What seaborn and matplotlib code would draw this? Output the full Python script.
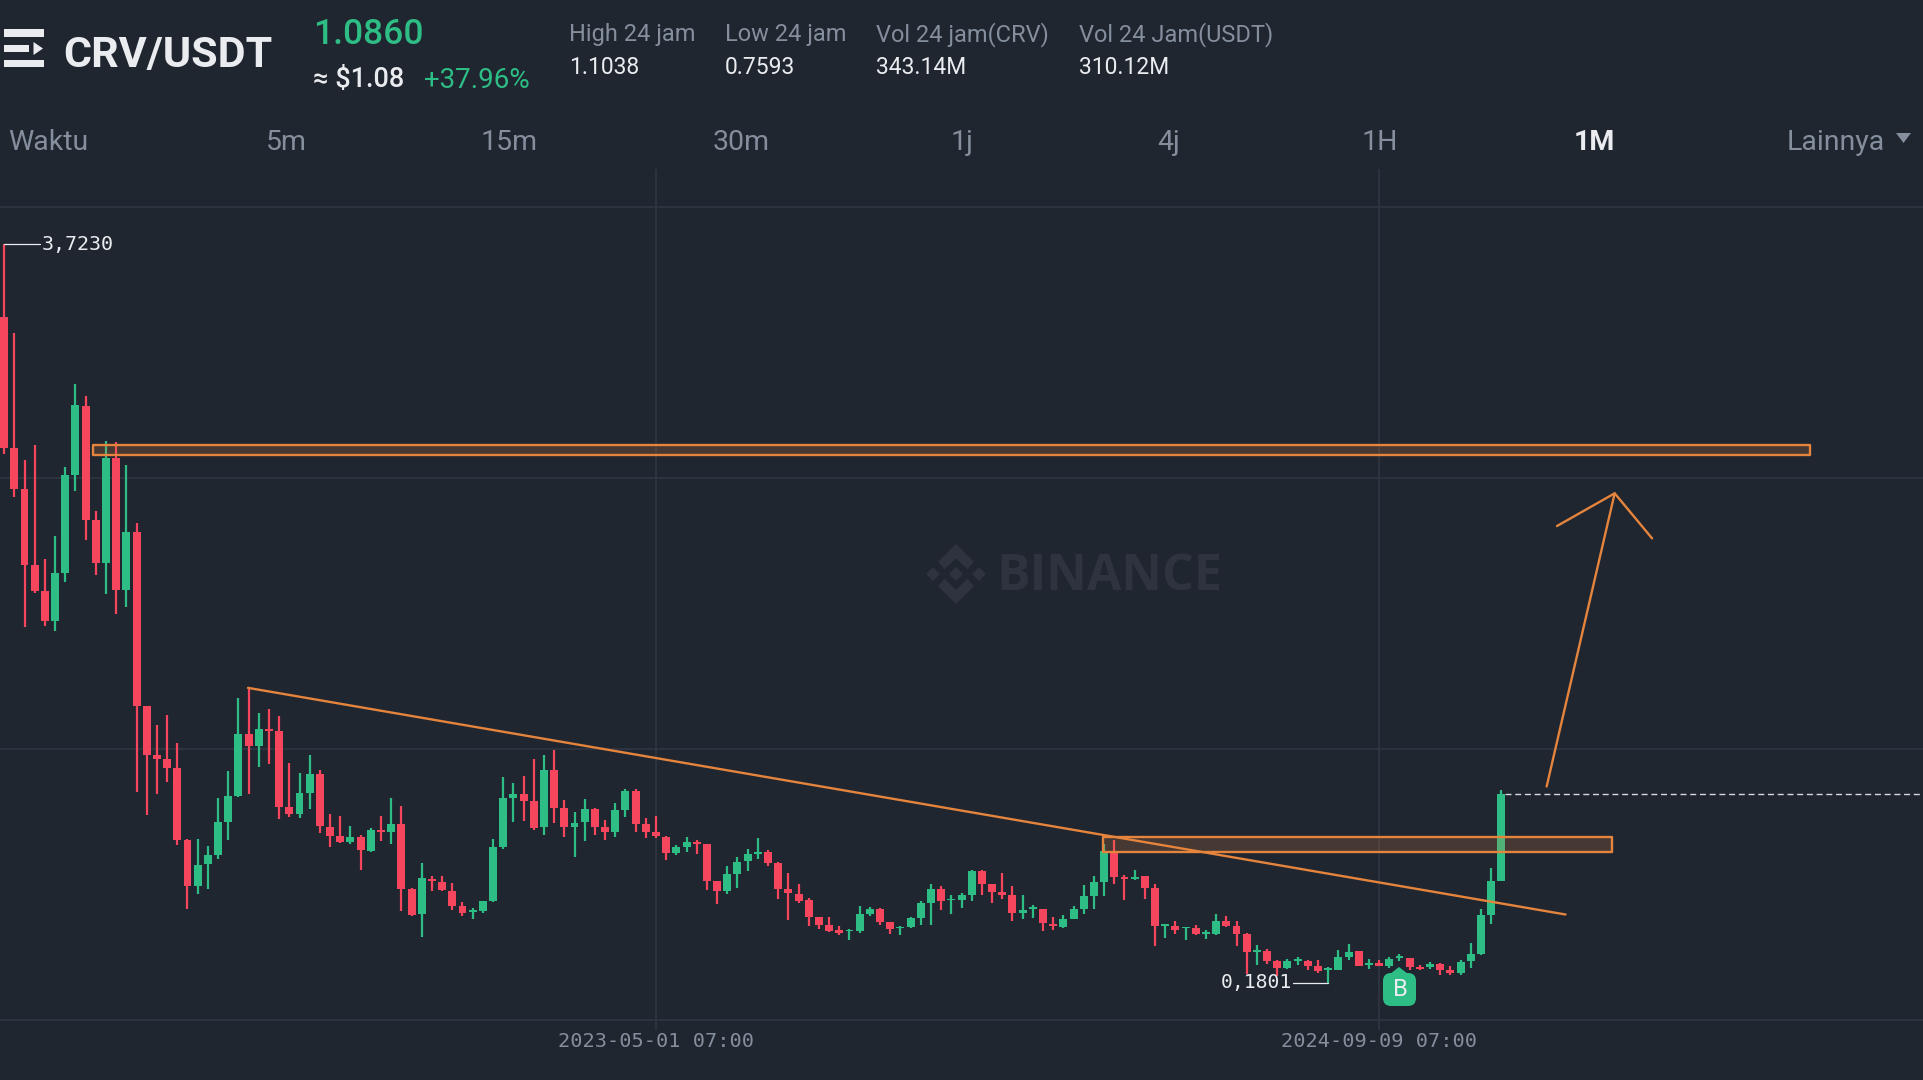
import numpy as np
import pandas as pd
import seaborn as sns
import matplotlib.pyplot as plt
from matplotlib.patches import Rectangle, Polygon, FancyBboxPatch

# weekly candles, oldest first
opens = [3.375, 2.743, 2.547, 2.185, 2.058, 1.917, 2.144, 2.615, 2.947, 2.401, 2.192, 2.699,
         2.064, 2.344, 1.509, 1.272, 1.252, 1.210, 0.864, 0.646, 0.750, 0.794, 0.952, 1.076,
         1.373, 1.316, 1.399, 1.386, 1.023, 0.992, 1.089, 1.181, 0.930, 0.884, 0.855, 0.879,
         0.812, 0.914, 0.906, 0.943, 0.628, 0.508, 0.679, 0.665, 0.623, 0.547, 0.521, 0.524,
         0.572, 0.830, 1.069, 1.084, 1.050, 0.926, 1.201, 1.017, 0.929, 0.950, 1.014, 0.929,
         0.906, 1.009, 1.100, 0.940, 0.903, 0.882, 0.804, 0.833, 0.857, 0.844, 0.667, 0.619,
         0.703, 0.763, 0.798, 0.806, 0.756, 0.628, 0.608, 0.576, 0.496, 0.456, 0.432, 0.427,
         0.427, 0.510, 0.536, 0.470, 0.441, 0.448, 0.489, 0.563, 0.628, 0.576, 0.579, 0.600,
         0.716, 0.654, 0.616, 0.601, 0.515, 0.534, 0.532, 0.464, 0.448, 0.488, 0.536, 0.595,
         0.665, 0.812, 0.688, 0.678, 0.691, 0.633, 0.454, 0.454, 0.441, 0.445, 0.416, 0.416,
         0.478, 0.451, 0.414, 0.328, 0.331, 0.283, 0.250, 0.283, 0.286, 0.261, 0.243, 0.243,
         0.305, 0.331, 0.267, 0.274, 0.259, 0.297, 0.297, 0.257, 0.256, 0.272, 0.242, 0.227,
         0.283, 0.317, 0.505, 0.668]
closes = [2.743, 2.547, 2.185, 2.058, 1.917, 2.144, 2.615, 2.950, 2.401, 2.192, 2.699, 2.064,
          2.344, 1.509, 1.272, 1.254, 1.210, 0.864, 0.646, 0.745, 0.792, 0.952, 1.076, 1.375,
          1.316, 1.399, 1.386, 1.023, 0.990, 1.089, 1.181, 0.933, 0.886, 0.855, 0.878, 0.815,
          0.914, 0.903, 0.943, 0.628, 0.507, 0.681, 0.668, 0.627, 0.548, 0.516, 0.529, 0.574,
          0.830, 1.068, 1.084, 1.050, 0.924, 1.201, 1.017, 0.927, 0.946, 1.015, 0.930, 0.906,
          1.007, 1.100, 0.943, 0.906, 0.884, 0.802, 0.831, 0.857, 0.846, 0.667, 0.620, 0.700,
          0.761, 0.796, 0.806, 0.755, 0.630, 0.609, 0.572, 0.496, 0.456, 0.430, 0.419, 0.435,
          0.512, 0.536, 0.470, 0.438, 0.448, 0.489, 0.563, 0.628, 0.571, 0.584, 0.600, 0.716,
          0.656, 0.616, 0.603, 0.515, 0.528, 0.544, 0.467, 0.451, 0.488, 0.536, 0.595, 0.664,
          0.812, 0.688, 0.678, 0.688, 0.633, 0.451, 0.460, 0.432, 0.448, 0.416, 0.422, 0.477,
          0.451, 0.416, 0.326, 0.337, 0.285, 0.253, 0.285, 0.293, 0.259, 0.237, 0.250, 0.304,
          0.329, 0.262, 0.275, 0.262, 0.293, 0.307, 0.256, 0.246, 0.272, 0.240, 0.227, 0.281,
          0.317, 0.505, 0.667, 1.086]
highs = [3.723, 3.297, 2.688, 2.758, 2.212, 2.322, 2.652, 3.051, 2.994, 2.445, 2.778, 2.773,
         2.666, 2.384, 1.509, 1.415, 1.465, 1.331, 0.871, 0.869, 0.836, 1.067, 1.195, 1.547,
         1.591, 1.476, 1.492, 1.459, 1.234, 1.188, 1.274, 1.203, 0.988, 0.978, 0.934, 0.887,
         0.921, 0.978, 1.066, 1.030, 0.635, 0.754, 0.691, 0.694, 0.660, 0.567, 0.539, 0.575,
         0.871, 1.167, 1.141, 1.173, 1.252, 1.273, 1.295, 1.055, 0.999, 1.063, 1.020, 0.959,
         1.044, 1.108, 1.109, 0.972, 0.980, 0.886, 0.839, 0.879, 0.863, 0.844, 0.667, 0.740,
         0.782, 0.820, 0.876, 0.815, 0.758, 0.707, 0.656, 0.585, 0.496, 0.497, 0.451, 0.438,
         0.550, 0.542, 0.537, 0.472, 0.452, 0.496, 0.574, 0.652, 0.646, 0.603, 0.611, 0.721,
         0.720, 0.656, 0.708, 0.643, 0.600, 0.553, 0.534, 0.497, 0.504, 0.550, 0.648, 0.692,
         0.847, 0.867, 0.699, 0.723, 0.691, 0.656, 0.462, 0.475, 0.449, 0.456, 0.432, 0.512,
         0.502, 0.475, 0.419, 0.363, 0.342, 0.288, 0.294, 0.302, 0.288, 0.288, 0.256, 0.336,
         0.365, 0.333, 0.293, 0.288, 0.305, 0.320, 0.301, 0.267, 0.281, 0.273, 0.262, 0.291,
         0.373, 0.534, 0.732, 1.1038]
lows = [2.718, 2.509, 1.888, 2.051, 1.890, 1.866, 2.102, 2.538, 2.302, 2.135, 2.047, 1.948,
        1.985, 1.096, 0.983, 1.085, 1.144, 0.842, 0.534, 0.604, 0.631, 0.772, 0.864, 1.073,
        1.087, 1.217, 1.232, 0.968, 0.974, 0.972, 1.012, 0.900, 0.834, 0.850, 0.844, 0.719,
        0.807, 0.860, 0.847, 0.524, 0.500, 0.400, 0.619, 0.620, 0.528, 0.500, 0.484, 0.516,
        0.568, 0.820, 0.953, 0.956, 0.911, 0.887, 0.946, 0.879, 0.786, 0.860, 0.887, 0.863,
        0.878, 0.975, 0.903, 0.876, 0.876, 0.771, 0.793, 0.806, 0.799, 0.627, 0.556, 0.604,
        0.635, 0.716, 0.774, 0.742, 0.580, 0.480, 0.564, 0.451, 0.437, 0.424, 0.409, 0.384,
        0.419, 0.502, 0.459, 0.413, 0.408, 0.445, 0.459, 0.457, 0.528, 0.512, 0.540, 0.571,
        0.600, 0.561, 0.582, 0.476, 0.486, 0.491, 0.429, 0.433, 0.443, 0.486, 0.509, 0.532,
        0.596, 0.652, 0.576, 0.672, 0.580, 0.357, 0.395, 0.414, 0.384, 0.411, 0.392, 0.411,
        0.448, 0.357, 0.224, 0.264, 0.272, 0.214, 0.246, 0.267, 0.240, 0.227, 0.1801, 0.240,
        0.288, 0.259, 0.246, 0.259, 0.251, 0.283, 0.243, 0.240, 0.246, 0.219, 0.219, 0.218,
        0.253, 0.315, 0.464, 0.667]

price_grid = [0.0, 1.3, 2.6, 3.9]
date_candles = [64, 135]
date_labels = ['2023-05-01 07:00', '2024-09-09 07:00']
tabs = ['5m', '15m', '30m', '1j', '4j', '1H', '1M']
tab_x = [286, 509, 741, 962, 1169, 1380, 1594]

BG = '#1f2630'
GREEN = '#2ebd85'
RED = '#f6465d'
ORANGE = '#e5843c'
GRAY = '#848e9c'
WHITE = '#eaecef'
GRID = '#2f3541'
MARK = '#2e333f'

sns.set_theme(style='dark', rc={'figure.facecolor': BG, 'axes.facecolor': BG})
plt.rcParams['font.family'] = ['Roboto', 'DejaVu Sans']

df = pd.DataFrame({'open': opens, 'close': closes, 'high': highs, 'low': lows})
df['candle'] = np.arange(len(df))
df['body'] = (df['close'] - df['open']).abs()
df['bottom'] = df[['open', 'close']].min(axis=1)
up = df[df['close'] >= df['open']]
down = df[df['close'] < df['open']]

fig = plt.figure(figsize=(19.24, 10.8), dpi=100)
ax = fig.add_axes([0, 50 / 1080, 1, 861 / 1080])

# wicks first, bodies on top
ax.vlines(up['candle'], up['low'], up['high'], color=GREEN, lw=1.6, zorder=2)
ax.vlines(down['candle'], down['low'], down['high'], color=RED, lw=1.6, zorder=2)
sns.barplot(data=up, x='candle', y='body', bottom=up['bottom'], native_scale=True, color=GREEN,
            saturation=1, width=0.78, linewidth=0, errorbar=None, ax=ax, zorder=3)
sns.barplot(data=down, x='candle', y='body', bottom=down['bottom'], native_scale=True, color=RED,
            saturation=1, width=0.78, linewidth=0, errorbar=None, ax=ax, zorder=3)

ax.set_xlim(-0.408, 188.5)
ax.set_ylim(-0.046, 4.0835)
ax.set_xticks(date_candles, date_labels, family='DejaVu Sans Mono', fontsize=14.6, color=GRAY)
ax.set_yticks(price_grid, [])
ax.set_xlabel('')
ax.set_ylabel('')
ax.tick_params(length=0, pad=1.2)
ax.grid(True, color=GRID, lw=1.2)
ax.set_axisbelow(True)
sns.despine(ax=ax, left=True, bottom=True)

# high / low / last price labels
ax.plot([0, 3.52], [highs[0], highs[0]], color=WHITE, lw=0.9, zorder=4)
ax.text(3.68, highs[0], '3,7230', family='DejaVu Sans Mono', fontsize=14.4, color=WHITE, va='center')
ax.plot([126.55, 130], [lows[130], lows[130]], color=WHITE, lw=0.9, zorder=4)
ax.text(126.4, lows[130], '0,1801', family='DejaVu Sans Mono', fontsize=14.2, color=WHITE,
        va='center', ha='right')
ax.plot([147.36, 188.5], [closes[-1], closes[-1]], color='#d5d8dc', lw=1, ls=(0, (4.3, 2.7)), zorder=4)

# hand drawn zones and lines
ax.add_patch(Rectangle((8.72, 2.712), 168.63, 0.046, fc=ORANGE, alpha=0.2, lw=0, zorder=5))
ax.add_patch(Rectangle((8.72, 2.712), 168.63, 0.046, fc='none', ec=ORANGE, lw=1.7, joinstyle='round', zorder=5))
ax.add_patch(Rectangle((107.9, 0.806), 49.96, 0.072, fc=ORANGE, alpha=0.2, lw=0, zorder=5))
ax.add_patch(Rectangle((107.9, 0.806), 49.96, 0.072, fc='none', ec=ORANGE, lw=1.7, joinstyle='round', zorder=5))
ax.plot([23.94, 153.3], [1.595, 0.508], color=ORANGE, lw=1.7, zorder=5)
ax.plot([151.45, 158.13], [1.122, 2.528], color=ORANGE, lw=1.7, zorder=5)
ax.plot([152.46, 158.13, 161.8], [2.371, 2.528, 2.312], color=ORANGE, lw=1.7, zorder=5)

# everything else sits in a pixel sized overlay
ui = fig.add_axes([0, 0, 1, 1])
ui.set_xlim(0, 1924)
ui.set_ylim(1080, 0)
ui.axis('off')
ui.patch.set_alpha(0)

# menu icon
ui.add_patch(Rectangle((4.5, 29), 39.5, 8, fc=WHITE, lw=0))
ui.add_patch(Rectangle((4.5, 45), 24.5, 7, fc=WHITE, lw=0))
ui.add_patch(Rectangle((4.5, 60), 39.5, 7, fc=WHITE, lw=0))
ui.add_patch(Polygon([(33.5, 42), (43, 48.5), (33.5, 55)], fc=WHITE, lw=0))

ui.text(63, 55, 'CRV/USDT', fontsize=31, weight='bold', color=WHITE, va='center')
ui.text(313, 34, '1.0860', fontsize=25.5, weight='medium', color=GREEN, va='center')
ui.text(313, 80, '≈ $1.08', fontsize=19.5, weight='medium', color=WHITE, va='center')
ui.text(424, 80, '+37.96%', fontsize=20, color=GREEN, va='center')

stat_x = [569, 725, 876, 1079]
stat_names = ['High 24 jam', 'Low 24 jam', 'Vol 24 jam(CRV)', 'Vol 24 Jam(USDT)']
stat_values = ['1.1038', '0.7593', '343.14M', '310.12M']
for x, name, value in zip(stat_x, stat_names, stat_values):
    ui.text(x, 35, name, fontsize=17, color=GRAY, va='center')
    ui.text(x, 68, value, fontsize=16.5, color=WHITE, va='center')

ui.text(8, 142, 'Waktu', fontsize=20.5, color=GRAY, va='center')
for x, tab in zip(tab_x, tabs):
    active = tab == '1M'
    ui.text(x, 142, tab, fontsize=20.5, color=WHITE if active else GRAY, va='center', ha='center',
            weight='bold' if active else 'normal')
ui.text(1787, 142, 'Lainnya', fontsize=20.5, color=GRAY, va='center')
ui.add_patch(Polygon([(1896, 133), (1911, 133), (1903.5, 143)], fc=GRAY, lw=0))

# watermark
cx, cy = 956, 574
top_chevron = [(0, -30), (18, -12.3), (11.5, -4.7), (0, -15.7), (-11.5, -4.7), (-18, -12.3)]
ui.add_patch(Polygon([(cx + a, cy + b) for a, b in top_chevron], fc=MARK, lw=0))
ui.add_patch(Polygon([(cx + a, cy - b) for a, b in top_chevron], fc=MARK, lw=0))
for dx in [-23, 0, 23]:
    ui.add_patch(Polygon([(cx + dx, cy - 7), (cx + dx + 7, cy), (cx + dx, cy + 7), (cx + dx - 7, cy)],
                         fc=MARK, lw=0))
ui.text(997, 577, 'BINANCE', fontsize=36, family='Open Sans', weight='bold', color=MARK, va='center')

# buy badge
ui.add_patch(FancyBboxPatch((1388, 978), 23, 23, boxstyle='round,pad=5,rounding_size=8', fc=GREEN, lw=0))
ui.add_patch(Polygon([(1390, 974), (1399, 967), (1408, 974)], fc=GREEN, lw=0))
ui.text(1400, 990, 'B', fontsize=17, color=WHITE, va='center', ha='center')

fig.savefig('out.png', dpi=100, facecolor=BG)
